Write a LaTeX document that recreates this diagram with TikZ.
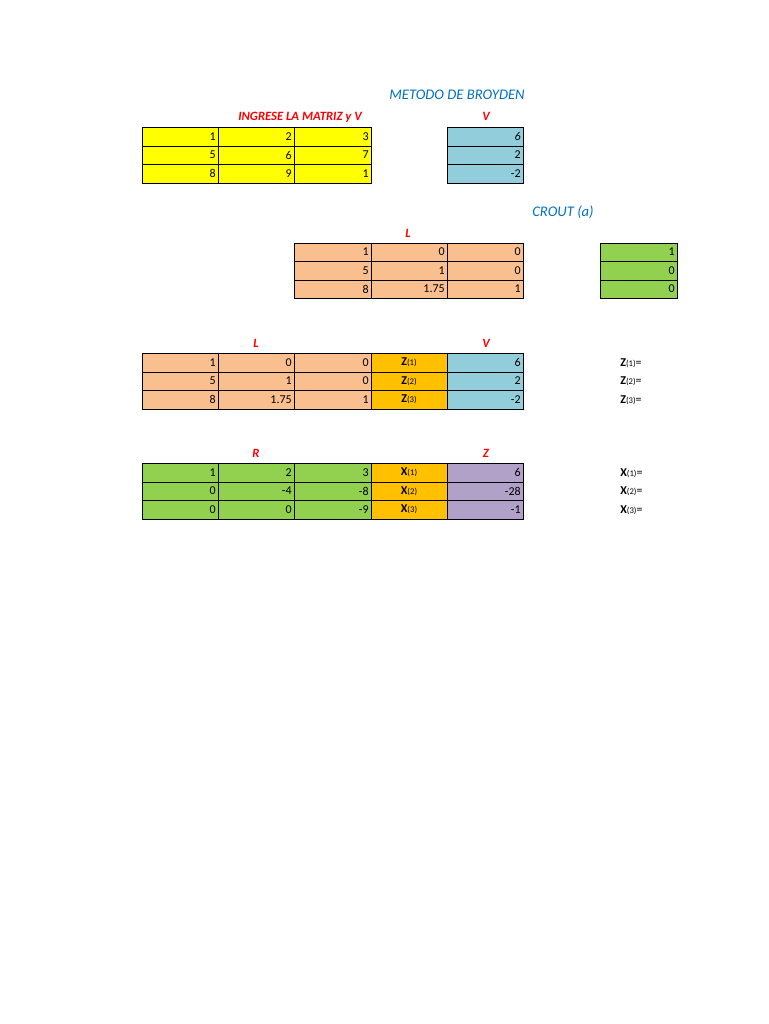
\documentclass[tikz,border=0pt]{standalone}
\usepackage{fontspec}
\setmainfont{Carlito}
\begin{document}
\begin{tikzpicture}[x=0.75pt,y=-0.75pt,
  cl/.style={draw=black,line width=0.6pt},
  num/.style={anchor=east,inner sep=0pt,font=\fontsize{9}{10}\selectfont},
  mid/.style={anchor=center,inner sep=0pt,font=\fontsize{9}{10}\selectfont},
  ttl/.style={text=red,font=\fontsize{9.5}{10}\selectfont\bfseries\itshape},
  btl/.style={text=blue!55!cyan!80!black,font=\fontsize{11}{12}\selectfont\itshape}]
\definecolor{cy}{HTML}{FFFF00}\definecolor{cb}{HTML}{92CDDC}
\definecolor{cp}{HTML}{FABF8F}\definecolor{cg}{HTML}{92D050}
\definecolor{co}{HTML}{FFC000}\definecolor{cv}{HTML}{B1A0C7}
\definecolor{tb}{HTML}{0070C0}
\useasboundingbox (0,0) rectangle (768,1024);
\newcommand{\mycell}[7]{% name x1 x2 y1 y2 color text
  \fill[#6] (#2,#4) rectangle (#3,#5);
  \draw[cl] (#2,#4) rectangle (#3,#5);
  \node[num] (#1) at (#3-2,{(#4+#5)/2}) {#7};}
\newcommand{\ocell}[6]{%
  \fill[co] (#2,#4) rectangle (#3,#5);
  \draw[cl] (#2,#4) rectangle (#3,#5);
  \node[mid] (#1) at ({(#2+#3)/2},{(#4+#5)/2}) {#6};}
\newcommand{\zl}[2]{{\bfseries #1}{\fontsize{6.5}{7}\selectfont(#2)}}
% titles
\node[btl,text=tb] (t0) at (457,95) {METODO DE BROYDEN};
\node[ttl] (t1) at (300,117) {INGRESE LA MATRIZ y V};
\node[ttl] (t2) at (486,116) {V};
\node[btl,text=tb] (t3) at (563,212) {CROUT (a)};
\node[ttl] (t4) at (408,233) {L};
\node[ttl] (t5) at (256,343) {L};
\node[ttl] (t6) at (486,343) {V};
\node[ttl] (t7) at (256,453) {R};
\node[ttl] (t8) at (486,453) {Z};
% table 1
\mycell{a11}{142}{218}{127}{146}{cy}{1}\mycell{a12}{218}{294}{127}{146}{cy}{2}\mycell{a13}{294}{371}{127}{146}{cy}{3}
\mycell{a21}{142}{218}{146}{164}{cy}{5}\mycell{a22}{218}{294}{146}{164}{cy}{6}\mycell{a23}{294}{371}{146}{164}{cy}{7}
\mycell{a31}{142}{218}{164}{183}{cy}{8}\mycell{a32}{218}{294}{164}{183}{cy}{9}\mycell{a33}{294}{371}{164}{183}{cy}{1}
\mycell{v1}{447}{523}{127}{146}{cb}{\itshape 6}\mycell{v2}{447}{523}{146}{164}{cb}{2}\mycell{v3}{447}{523}{164}{183}{cb}{-2}
% crout L
\mycell{l11}{294}{371}{243}{261}{cp}{1}\mycell{l12}{371}{447}{243}{261}{cp}{0}\mycell{l13}{447}{523}{243}{261}{cp}{0}
\mycell{l21}{294}{371}{261}{280}{cp}{5}\mycell{l22}{371}{447}{261}{280}{cp}{1}\mycell{l23}{447}{523}{261}{280}{cp}{0}
\mycell{l31}{294}{371}{280}{298}{cp}{8}\mycell{l32}{371}{447}{280}{298}{cp}{1.75}\mycell{l33}{447}{523}{280}{298}{cp}{1}
\mycell{g1}{600}{677}{243}{261}{cg}{1}\mycell{g2}{600}{677}{261}{280}{cg}{0}\mycell{g3}{600}{677}{280}{298}{cg}{0}
% table 3
\mycell{m11}{142}{218}{353}{372}{cp}{1}\mycell{m12}{218}{294}{353}{372}{cp}{0}\mycell{m13}{294}{371}{353}{372}{cp}{0}
\mycell{m21}{142}{218}{372}{390}{cp}{5}\mycell{m22}{218}{294}{372}{390}{cp}{1}\mycell{m23}{294}{371}{372}{390}{cp}{0}
\mycell{m31}{142}{218}{390}{409}{cp}{8}\mycell{m32}{218}{294}{390}{409}{cp}{1.75}\mycell{m33}{294}{371}{390}{409}{cp}{1}
\ocell{z1}{371}{447}{353}{372}{\zl{Z}{1}}\ocell{z2}{371}{447}{372}{390}{\zl{Z}{2}}\ocell{z3}{371}{447}{390}{409}{\zl{Z}{3}}
\mycell{w1}{447}{523}{353}{372}{cb}{6}\mycell{w2}{447}{523}{372}{390}{cb}{2}\mycell{w3}{447}{523}{390}{409}{cb}{-2}
\node[mid,anchor=west] (rz1) at (620,363) {\zl{Z}{1}=};
\node[mid,anchor=west] (rz2) at (620,381) {\zl{Z}{2}=};
\node[mid,anchor=west] (rz3) at (620,400) {\zl{Z}{3}=};
% table 4
\mycell{r11}{142}{218}{463}{482}{cg}{1}\mycell{r12}{218}{294}{463}{482}{cg}{2}\mycell{r13}{294}{371}{463}{482}{cg}{3}
\mycell{r21}{142}{218}{482}{500}{cg}{0}\mycell{r22}{218}{294}{482}{500}{cg}{-4}\mycell{r23}{294}{371}{482}{500}{cg}{-8}
\mycell{r31}{142}{218}{500}{519}{cg}{0}\mycell{r32}{218}{294}{500}{519}{cg}{0}\mycell{r33}{294}{371}{500}{519}{cg}{-9}
\ocell{x1}{371}{447}{463}{482}{\zl{X}{1}}\ocell{x2}{371}{447}{482}{500}{\zl{X}{2}}\ocell{x3}{371}{447}{500}{519}{\zl{X}{3}}
\mycell{p1}{447}{523}{463}{482}{cv}{6}\mycell{p2}{447}{523}{482}{500}{cv}{-28}\mycell{p3}{447}{523}{500}{519}{cv}{-1}
\node[mid,anchor=west] (rx1) at (620,473) {\zl{X}{1}=};
\node[mid,anchor=west] (rx2) at (620,491) {\zl{X}{2}=};
\node[mid,anchor=west] (rx3) at (620,510) {\zl{X}{3}=};
\end{tikzpicture}
\end{document}
